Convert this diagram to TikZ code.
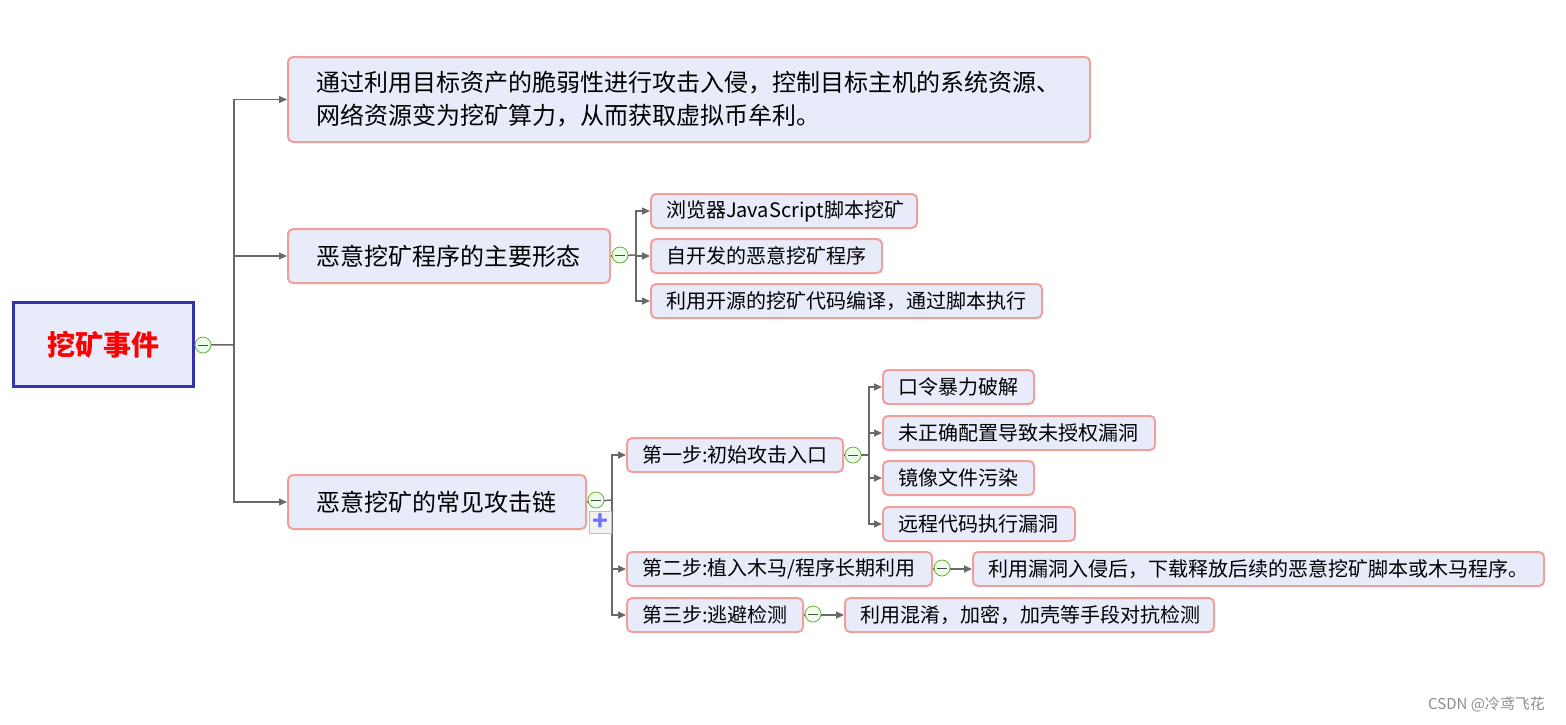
\documentclass[tikz,border=0pt]{standalone}
\usepackage{fontspec}
\setmainfont{Noto Sans CJK SC}
\usetikzlibrary{arrows.meta}
\definecolor{boxfill}{RGB}{232,235,250}
\definecolor{boxline}{RGB}{240,160,155}
\definecolor{linkgray}{RGB}{105,105,105}
\definecolor{foldgreen}{RGB}{110,170,60}
\begin{document}
\begin{tikzpicture}[
   x=0.5pt,y=-0.5pt,
   topic/.style={draw=boxline,line width=1pt,fill=boxfill,rounded corners=2.5pt,anchor=north west,
     inner xsep=14pt,inner ysep=0pt,align=left,font=\fontsize{12}{16.5}\selectfont},
   sub/.style={topic,inner xsep=7.5pt,font=\fontsize{10}{13}\selectfont},
   to/.style={-{Triangle[length=4pt,width=3.5pt]},line width=0.75pt,draw=linkgray},
   fold/.style={circle,draw=foldgreen,fill=green!8,minimum size=8pt,inner sep=0pt,
     path picture={\draw[black!70] ([xshift=-2.3pt]path picture bounding box.center) -- ([xshift=2.3pt]path picture bounding box.center);}}]
\useasboundingbox (0,0) rectangle (1566,724);
% root
\node[draw=blue!60!black!80,line width=1.6pt,fill=boxfill,minimum width=90pt,minimum height=42pt,
  anchor=north west,font=\fontsize{14}{16}\selectfont\bfseries,text=red] (root) at (12,301) {挖矿事件};
% level 1
\node[topic,minimum width=401pt,minimum height=42.5pt,text width=373pt] (def) at (287,56)
  {通过利用目标资产的脆弱性进行攻击入侵，控制目标主机的系统资源、\\网络资源变为挖矿算力，从而获取虚拟币牟利。};
\node[topic,minimum width=161pt,minimum height=27pt,text width=133pt] (form) at (287,228) {恶意挖矿程序的主要形态};
\node[topic,minimum width=149pt,minimum height=27pt,text width=121pt] (chain) at (287,474) {恶意挖矿的常见攻击链};
% forms
\node[sub,minimum width=133pt,minimum height=17pt,text width=118pt] (js) at (650,193) {浏览器JavaScript脚本挖矿};
\node[sub,minimum width=115.5pt,minimum height=17pt,text width=100.5pt] (self) at (650,238) {自开发的恶意挖矿程序};
\node[sub,minimum width=195.5pt,minimum height=17pt,text width=180.5pt] (open) at (650,283) {利用开源的挖矿代码编译，通过脚本执行};
% chain
\node[sub,minimum width=108pt,minimum height=17pt,text width=93pt] (s1) at (626,437) {第一步:初始攻击入口};
\node[sub,minimum width=152.5pt,minimum height=17pt,text width=137.5pt] (s2) at (626,551) {第二步:植入木马/程序长期利用};
\node[sub,minimum width=88pt,minimum height=17pt,text width=73pt] (s3) at (626,597) {第三步:逃避检测};
\node[sub,minimum width=75.5pt,minimum height=17pt,text width=60.5pt] (pw) at (882,369) {口令暴力破解};
\node[sub,minimum width=136pt,minimum height=17pt,text width=121pt] (cfg) at (882,415) {未正确配置导致未授权漏洞};
\node[sub,minimum width=75.5pt,minimum height=17pt,text width=60.5pt] (img) at (882,460) {镜像文件污染};
\node[sub,minimum width=96pt,minimum height=17pt,text width=81pt] (rce) at (882,506) {远程代码执行漏洞};
\node[sub,minimum width=285.5pt,minimum height=17pt,text width=270.5pt] (drop) at (972,551) {利用漏洞入侵后，下载释放后续的恶意挖矿脚本或木马程序。};
\node[sub,minimum width=184.5pt,minimum height=17pt,text width=169.5pt] (evade) at (844,597) {利用混淆，加密，加壳等手段对抗检测};
% links
\draw[linkgray,line width=0.75pt] (root.east) -- (234,345) coordinate (t0);
\foreach \n in {def,form,chain} \draw[to] (t0) |- (\n.west);
\draw[linkgray,line width=0.75pt] (form.east) -- (636,255) coordinate (t1);
\foreach \n in {js,self,open} \draw[to] (t1) |- (\n.west);
\draw[linkgray,line width=0.75pt] (chain.east) -- (612,500) coordinate (t2);
\foreach \n in {s1,s2,s3} \draw[to] (t2) |- (\n.west);
\draw[linkgray,line width=0.75pt] (s1.east) -- (869,455) coordinate (t3);
\foreach \n in {pw,cfg,img,rce} \draw[to] (t3) |- (\n.west);
\draw[to] (s2.east) -- (drop.west);
\draw[to] (s3.east) -- (evade.west);
% fold marks
\node[fold] (f0) at (203,345) {};
\node[fold] (f1) at (620,255) {};
\node[fold] (f2) at (596,500) {};
\node[fold] (f3) at (853,455) {};
\node[fold] (f4) at (942,568) {};
\node[fold] (f5) at (813,614) {};
\node[draw=black!25,fill=black!5,minimum size=11pt,inner sep=0pt,text=blue!55,font=\bfseries\fontsize{13}{13}\selectfont] (plus) at (600,522) {+};
\node[text=black!45,font=\fontsize{7.5}{9}\selectfont,anchor=east] (mark) at (1552,704) {CSDN @冷鸢飞花};
\end{tikzpicture}
\end{document}
